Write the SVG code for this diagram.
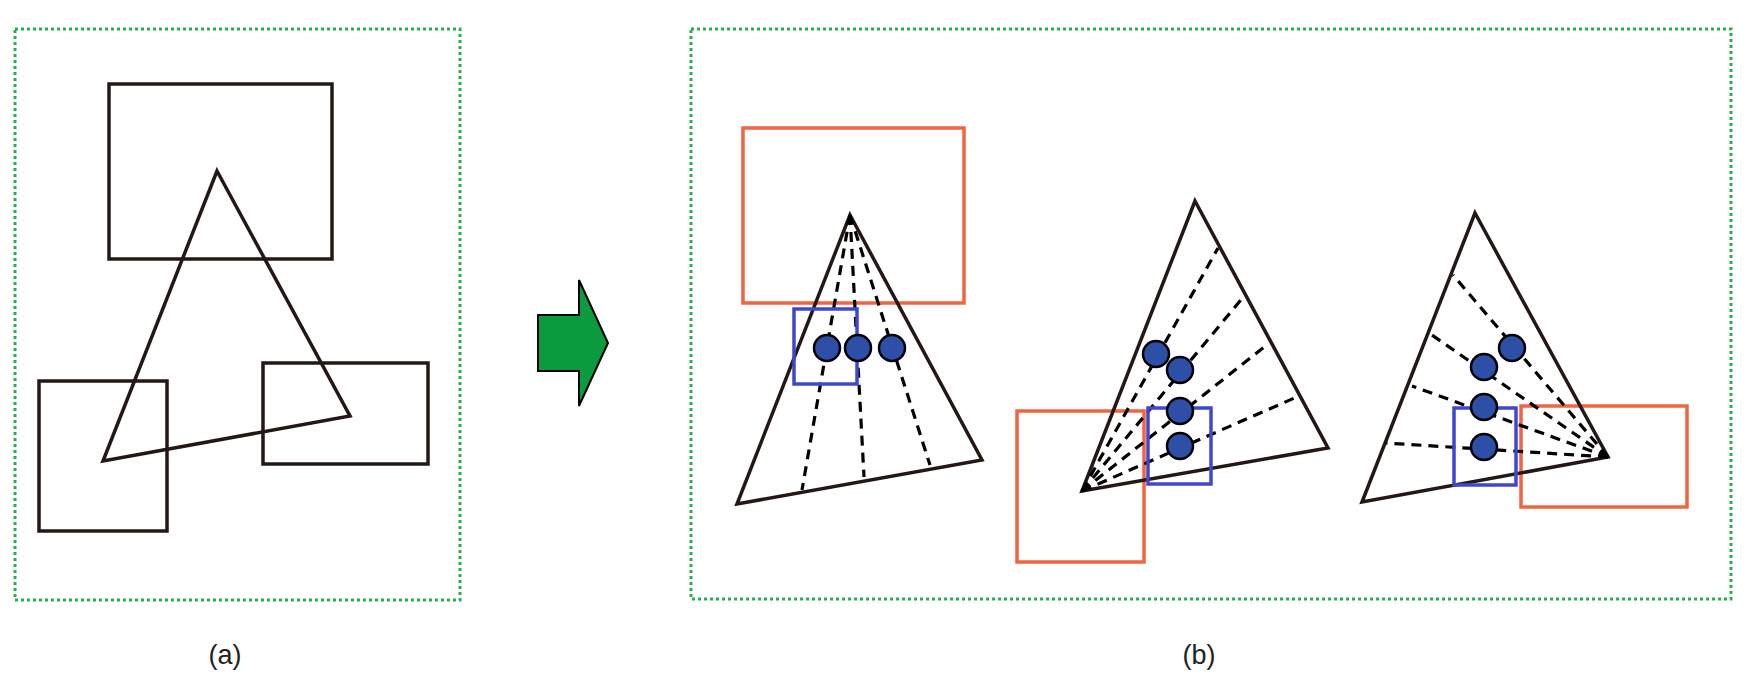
<svg xmlns="http://www.w3.org/2000/svg" width="1761" height="693" viewBox="0 0 1761 693">
<style>
.frame{fill:none;stroke:#22b14c;stroke-width:3;stroke-dasharray:3 3}
.k{fill:none;stroke:#231815;stroke-width:3.5;stroke-linejoin:miter}
.d{fill:none;stroke:#000;stroke-width:3.2;stroke-dasharray:10 7}
.o{fill:none;stroke:#f26440;stroke-width:3.5}
.b{fill:none;stroke:#3f48cc;stroke-width:3.5}
.c{fill:#2e4fa8;stroke:#000;stroke-width:2.5}
.t{font-family:"Liberation Sans",Arial,sans-serif;font-size:27px;fill:#222}
</style>
<rect width="1761" height="693" fill="#fff"/>
<g id="panel-a">
<rect class="frame" x="15" y="29" width="445" height="571"/>
<rect class="k" x="109" y="84" width="223" height="175"/>
<rect class="k" x="39" y="381" width="128" height="150"/>
<rect class="k" x="263" y="363" width="165" height="101"/>
<polygon class="k" points="217,171 350,416 103,461"/>
</g>
<g id="arrow">
<polygon points="538,315 579,315 579,280 608,343 579,406 579,371 538,371" fill="#0b9a3e" stroke="#000" stroke-width="2"/>
</g>
<g id="panel-b">
<rect class="frame" x="691" y="29" width="1040" height="570"/>
</g>
<g id="tri1">
<rect class="o" x="743" y="128" width="221" height="175"/>
<polygon class="k" points="850,215 982,460 737,504"/>
<line class="d" x1="850" y1="215" x2="802" y2="490"/>
<line class="d" x1="850" y1="215" x2="864" y2="477"/>
<line class="d" x1="850" y1="215" x2="930" y2="465"/>
<rect class="b" x="794" y="309" width="63" height="75"/>
<circle class="c" cx="827" cy="348" r="13"/>
<circle class="c" cx="858" cy="348" r="13"/>
<circle class="c" cx="892" cy="348" r="13"/>
</g>
<g id="tri2">
<rect class="o" x="1017" y="411" width="127" height="151"/>
<polygon class="k" points="1195,201 1328,448 1082,491"/>
<line class="d" x1="1082" y1="491" x2="1218" y2="248"/>
<line class="d" x1="1082" y1="491" x2="1245" y2="295"/>
<line class="d" x1="1082" y1="491" x2="1268" y2="344"/>
<line class="d" x1="1082" y1="491" x2="1299" y2="396"/>
<rect class="b" x="1148" y="408" width="63" height="76"/>
<circle class="c" cx="1156" cy="354" r="13"/>
<circle class="c" cx="1180" cy="370" r="13"/>
<circle class="c" cx="1180" cy="411" r="13"/>
<circle class="c" cx="1180" cy="446" r="13"/>
</g>
<g id="tri3">
<rect class="o" x="1521" y="406" width="166" height="101"/>
<polygon class="k" points="1475,213 1608,457 1362,502"/>
<line class="d" x1="1608" y1="457" x2="1453" y2="275"/>
<line class="d" x1="1608" y1="457" x2="1429" y2="333"/>
<line class="d" x1="1608" y1="457" x2="1412" y2="386"/>
<line class="d" x1="1608" y1="457" x2="1386" y2="443"/>
<rect class="b" x="1454" y="408" width="62" height="77"/>
<circle class="c" cx="1512" cy="348" r="13"/>
<circle class="c" cx="1484" cy="367" r="13"/>
<circle class="c" cx="1484" cy="407" r="13"/>
<circle class="c" cx="1484" cy="447" r="13"/>
</g>
<g id="labels">
<text class="t" x="225" y="664" text-anchor="middle">(a)</text>
<text class="t" x="1199" y="664" text-anchor="middle">(b)</text>
</g>
</svg>
